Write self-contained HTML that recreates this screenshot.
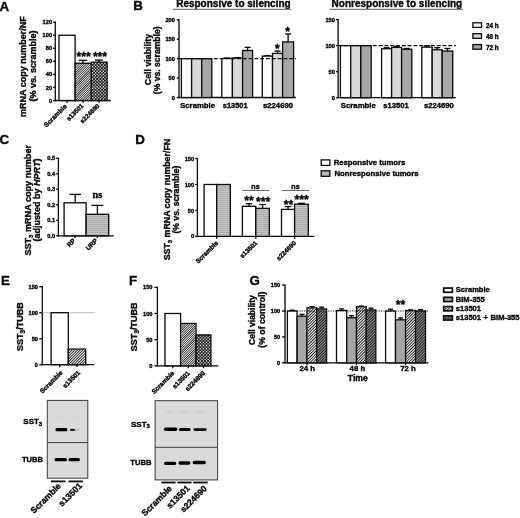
<!DOCTYPE html>
<html lang="en"><head><meta charset="utf-8"><title>Figure</title>
<style>
html,body{margin:0;padding:0;background:#fff;}
body{width:520px;height:518px;overflow:hidden;font-family:"Liberation Sans",sans-serif;}
svg{display:block;}
</style></head><body>
<svg width="520" height="518" viewBox="0 0 520 518">
<rect x="0" y="0" width="520" height="518" fill="#ffffff"/>
<g filter="url(#soft)">
<defs>
<filter id="soft" x="0" y="0" width="520" height="518" filterUnits="userSpaceOnUse"><feGaussianBlur stdDeviation="0.45"/></filter>
<pattern id="hlines" x="0" y="0" width="2" height="2" patternUnits="userSpaceOnUse">
<rect width="2" height="2" fill="#c3c3c3"/><rect width="2" height="0.8" fill="#a9a9a9"/></pattern>
<filter id="blur1" x="-20%" y="-50%" width="140%" height="200%"><feGaussianBlur stdDeviation="0.7"/></filter>
<filter id="blur2" x="-20%" y="-50%" width="140%" height="200%"><feGaussianBlur stdDeviation="1.2"/></filter>
</defs>
<text x="-0.40" y="10.70" font-family='"Liberation Sans", sans-serif' font-size="13.3" font-weight="bold" text-anchor="start" fill="#080808" stroke="#080808" stroke-width="0.35" >A</text>
<line x1="55.30" y1="21.55" x2="55.30" y2="101.15" stroke="#080808" stroke-width="1.3" />
<line x1="53.10" y1="100.50" x2="55.30" y2="100.50" stroke="#080808" stroke-width="1.3" />
<text x="52.10" y="102.55" font-family='"Liberation Sans", sans-serif' font-size="5.7" font-weight="bold" text-anchor="end" fill="#080808" stroke="#080808" stroke-width="0.35" >0</text>
<line x1="53.10" y1="87.45" x2="55.30" y2="87.45" stroke="#080808" stroke-width="1.3" />
<text x="52.10" y="89.50" font-family='"Liberation Sans", sans-serif' font-size="5.7" font-weight="bold" text-anchor="end" fill="#080808" stroke="#080808" stroke-width="0.35" >20</text>
<line x1="53.10" y1="74.40" x2="55.30" y2="74.40" stroke="#080808" stroke-width="1.3" />
<text x="52.10" y="76.45" font-family='"Liberation Sans", sans-serif' font-size="5.7" font-weight="bold" text-anchor="end" fill="#080808" stroke="#080808" stroke-width="0.35" >40</text>
<line x1="53.10" y1="61.35" x2="55.30" y2="61.35" stroke="#080808" stroke-width="1.3" />
<text x="52.10" y="63.40" font-family='"Liberation Sans", sans-serif' font-size="5.7" font-weight="bold" text-anchor="end" fill="#080808" stroke="#080808" stroke-width="0.35" >60</text>
<line x1="53.10" y1="48.30" x2="55.30" y2="48.30" stroke="#080808" stroke-width="1.3" />
<text x="52.10" y="50.35" font-family='"Liberation Sans", sans-serif' font-size="5.7" font-weight="bold" text-anchor="end" fill="#080808" stroke="#080808" stroke-width="0.35" >80</text>
<line x1="53.10" y1="35.25" x2="55.30" y2="35.25" stroke="#080808" stroke-width="1.3" />
<text x="52.10" y="37.30" font-family='"Liberation Sans", sans-serif' font-size="5.7" font-weight="bold" text-anchor="end" fill="#080808" stroke="#080808" stroke-width="0.35" >100</text>
<line x1="53.10" y1="22.20" x2="55.30" y2="22.20" stroke="#080808" stroke-width="1.3" />
<text x="52.10" y="24.25" font-family='"Liberation Sans", sans-serif' font-size="5.7" font-weight="bold" text-anchor="end" fill="#080808" stroke="#080808" stroke-width="0.35" >120</text>
<line x1="54.65" y1="100.50" x2="110.80" y2="100.50" stroke="#080808" stroke-width="1.3" />
<rect x="59.00" y="35.25" width="16.10" height="65.25" fill="#fff" stroke="#080808" stroke-width="1.3"/>
<line x1="83.00" y1="63.30" x2="83.00" y2="60.30" stroke="#080808" stroke-width="1.3" />
<line x1="78.80" y1="60.30" x2="87.20" y2="60.30" stroke="#080808" stroke-width="1.3" />
<rect x="75.20" y="63.30" width="16.10" height="37.20" fill="#fff" stroke="#080808" stroke-width="1.3"/>
<line x1="98.90" y1="62.20" x2="98.90" y2="60.10" stroke="#080808" stroke-width="1.3" />
<line x1="94.90" y1="60.10" x2="102.90" y2="60.10" stroke="#080808" stroke-width="1.3" />
<rect x="91.30" y="62.20" width="15.80" height="38.30" fill="#141414" stroke="#080808" stroke-width="1.3"/>
<line x1="67.00" y1="100.50" x2="67.00" y2="102.70" stroke="#080808" stroke-width="1.3" />
<line x1="83.20" y1="100.50" x2="83.20" y2="102.70" stroke="#080808" stroke-width="1.3" />
<line x1="99.20" y1="100.50" x2="99.20" y2="102.70" stroke="#080808" stroke-width="1.3" />
<text x="83.70" y="61.40" font-family='"Liberation Sans", sans-serif' font-size="12.2" font-weight="bold" text-anchor="middle" fill="#080808" stroke="#080808" stroke-width="0.35" >***</text>
<text x="100.00" y="61.00" font-family='"Liberation Sans", sans-serif' font-size="12.2" font-weight="bold" text-anchor="middle" fill="#080808" stroke="#080808" stroke-width="0.35" >***</text>
<text x="67.30" y="106.80" font-family='"Liberation Sans", sans-serif' font-size="6.5" font-weight="bold" text-anchor="end" fill="#080808" stroke="#080808" stroke-width="0.35" transform="rotate(-45 67.30 106.80)" >Scramble</text>
<text x="83.90" y="106.30" font-family='"Liberation Sans", sans-serif' font-size="6.3" font-weight="bold" text-anchor="end" fill="#080808" stroke="#080808" stroke-width="0.35" transform="rotate(-45 83.90 106.30)" >s13501</text>
<text x="99.90" y="106.40" font-family='"Liberation Sans", sans-serif' font-size="6.3" font-weight="bold" text-anchor="end" fill="#080808" stroke="#080808" stroke-width="0.35" transform="rotate(-45 99.90 106.40)" >s224690</text>
<text x="26.10" y="66.70" font-family='"Liberation Sans", sans-serif' font-size="9" font-weight="bold" text-anchor="middle" fill="#080808" stroke="#080808" stroke-width="0.35" transform="rotate(-90 26.10 66.70)" >mRNA copy number/NF</text>
<text x="36.40" y="66.00" font-family='"Liberation Sans", sans-serif' font-size="9" font-weight="bold" text-anchor="middle" fill="#080808" stroke="#080808" stroke-width="0.35" transform="rotate(-90 36.40 66.00)" >(% vs. scramble)</text>
<text x="133.30" y="10.00" font-family='"Liberation Sans", sans-serif' font-size="13.3" font-weight="bold" text-anchor="start" fill="#080808" stroke="#080808" stroke-width="0.35" >B</text>
<text x="233.40" y="7.15" font-family='"Liberation Sans", sans-serif' font-size="10.0" font-weight="bold" text-anchor="middle" fill="#080808" stroke="#080808" stroke-width="0.35" >Responsive to silencing</text>
<line x1="172.80" y1="9.40" x2="291.20" y2="9.40" stroke="#7c7c7c" stroke-width="1.1" />
<line x1="179.00" y1="19.15" x2="179.00" y2="98.15" stroke="#080808" stroke-width="1.3" />
<line x1="176.80" y1="97.50" x2="179.00" y2="97.50" stroke="#080808" stroke-width="1.3" />
<text x="174.90" y="99.55" font-family='"Liberation Sans", sans-serif' font-size="5.7" font-weight="bold" text-anchor="end" fill="#080808" stroke="#080808" stroke-width="0.35" >0</text>
<line x1="176.80" y1="78.08" x2="179.00" y2="78.08" stroke="#080808" stroke-width="1.3" />
<text x="174.90" y="80.13" font-family='"Liberation Sans", sans-serif' font-size="5.7" font-weight="bold" text-anchor="end" fill="#080808" stroke="#080808" stroke-width="0.35" >50</text>
<line x1="176.80" y1="58.65" x2="179.00" y2="58.65" stroke="#080808" stroke-width="1.3" />
<text x="174.90" y="60.70" font-family='"Liberation Sans", sans-serif' font-size="5.7" font-weight="bold" text-anchor="end" fill="#080808" stroke="#080808" stroke-width="0.35" >100</text>
<line x1="176.80" y1="39.23" x2="179.00" y2="39.23" stroke="#080808" stroke-width="1.3" />
<text x="174.90" y="41.28" font-family='"Liberation Sans", sans-serif' font-size="5.7" font-weight="bold" text-anchor="end" fill="#080808" stroke="#080808" stroke-width="0.35" >150</text>
<line x1="176.80" y1="19.80" x2="179.00" y2="19.80" stroke="#080808" stroke-width="1.3" />
<text x="174.90" y="21.85" font-family='"Liberation Sans", sans-serif' font-size="5.7" font-weight="bold" text-anchor="end" fill="#080808" stroke="#080808" stroke-width="0.35" >200</text>
<line x1="178.35" y1="97.50" x2="295.80" y2="97.50" stroke="#080808" stroke-width="1.3" />
<rect x="181.40" y="58.65" width="10.20" height="38.85" fill="#ffffff" stroke="#080808" stroke-width="1.3"/>
<rect x="191.60" y="58.65" width="10.10" height="38.85" fill="#d8d8d8" stroke="#080808" stroke-width="1.3"/>
<rect x="201.70" y="58.65" width="10.10" height="38.85" fill="#a7a7a7" stroke="#080808" stroke-width="1.3"/>
<line x1="227.10" y1="58.46" x2="227.10" y2="58.07" stroke="#080808" stroke-width="1.3" />
<line x1="224.10" y1="58.07" x2="230.10" y2="58.07" stroke="#080808" stroke-width="1.3" />
<rect x="221.80" y="58.46" width="10.60" height="39.04" fill="#ffffff" stroke="#080808" stroke-width="1.3"/>
<line x1="237.50" y1="58.07" x2="237.50" y2="57.60" stroke="#080808" stroke-width="1.3" />
<line x1="234.50" y1="57.60" x2="240.50" y2="57.60" stroke="#080808" stroke-width="1.3" />
<rect x="232.40" y="58.07" width="10.20" height="39.43" fill="#d8d8d8" stroke="#080808" stroke-width="1.3"/>
<line x1="247.60" y1="50.49" x2="247.60" y2="47.38" stroke="#080808" stroke-width="1.3" />
<line x1="244.60" y1="47.38" x2="250.60" y2="47.38" stroke="#080808" stroke-width="1.3" />
<rect x="242.60" y="50.49" width="10.00" height="47.01" fill="#a7a7a7" stroke="#080808" stroke-width="1.3"/>
<line x1="267.40" y1="56.12" x2="267.40" y2="55.54" stroke="#080808" stroke-width="1.3" />
<line x1="264.40" y1="55.54" x2="270.40" y2="55.54" stroke="#080808" stroke-width="1.3" />
<rect x="262.30" y="56.12" width="10.20" height="41.38" fill="#ffffff" stroke="#080808" stroke-width="1.3"/>
<line x1="277.55" y1="53.41" x2="277.55" y2="51.07" stroke="#080808" stroke-width="1.3" />
<line x1="274.55" y1="51.07" x2="280.55" y2="51.07" stroke="#080808" stroke-width="1.3" />
<rect x="272.50" y="53.41" width="10.10" height="44.09" fill="#d8d8d8" stroke="#080808" stroke-width="1.3"/>
<line x1="288.10" y1="41.94" x2="288.10" y2="33.98" stroke="#080808" stroke-width="1.3" />
<line x1="285.10" y1="33.98" x2="291.10" y2="33.98" stroke="#080808" stroke-width="1.3" />
<rect x="282.60" y="41.94" width="11.00" height="55.56" fill="#a7a7a7" stroke="#080808" stroke-width="1.3"/>
<line x1="179.00" y1="58.65" x2="295.80" y2="58.65" stroke="#111" stroke-width="1.25" stroke-dasharray="3.9 1.9"/>
<text x="277.30" y="53.40" font-family='"Liberation Sans", sans-serif' font-size="12" font-weight="bold" text-anchor="middle" fill="#080808" stroke="#080808" stroke-width="0.35" >*</text>
<text x="287.50" y="35.60" font-family='"Liberation Sans", sans-serif' font-size="12" font-weight="bold" text-anchor="middle" fill="#080808" stroke="#080808" stroke-width="0.35" >*</text>
<text x="197.60" y="107.80" font-family='"Liberation Sans", sans-serif' font-size="7.75" font-weight="bold" text-anchor="middle" fill="#080808" stroke="#080808" stroke-width="0.35" >Scramble</text>
<text x="235.20" y="107.80" font-family='"Liberation Sans", sans-serif' font-size="7.4" font-weight="bold" text-anchor="middle" fill="#080808" stroke="#080808" stroke-width="0.35" >s13501</text>
<text x="278.00" y="107.80" font-family='"Liberation Sans", sans-serif' font-size="7.7" font-weight="bold" text-anchor="middle" fill="#080808" stroke="#080808" stroke-width="0.35" >s224690</text>
<text x="150.60" y="59.50" font-family='"Liberation Sans", sans-serif' font-size="8.8" font-weight="bold" text-anchor="middle" fill="#080808" stroke="#080808" stroke-width="0.35" transform="rotate(-90 150.60 59.50)" >Cell viability</text>
<text x="160.20" y="60.30" font-family='"Liberation Sans", sans-serif' font-size="8.6" font-weight="bold" text-anchor="middle" fill="#080808" stroke="#080808" stroke-width="0.35" transform="rotate(-90 160.20 60.30)" >(% vs. scramble)</text>
<text x="396.90" y="7.15" font-family='"Liberation Sans", sans-serif' font-size="10.0" font-weight="bold" text-anchor="middle" fill="#080808" stroke="#080808" stroke-width="0.35" >Nonresponsive to silencing</text>
<line x1="329.40" y1="9.40" x2="463.20" y2="9.40" stroke="#7c7c7c" stroke-width="1.1" />
<line x1="338.10" y1="18.90" x2="338.10" y2="98.35" stroke="#080808" stroke-width="1.3" />
<line x1="335.90" y1="97.70" x2="338.10" y2="97.70" stroke="#080808" stroke-width="1.3" />
<text x="334.90" y="99.75" font-family='"Liberation Sans", sans-serif' font-size="5.7" font-weight="bold" text-anchor="end" fill="#080808" stroke="#080808" stroke-width="0.35" >0</text>
<line x1="335.90" y1="71.65" x2="338.10" y2="71.65" stroke="#080808" stroke-width="1.3" />
<text x="334.90" y="73.70" font-family='"Liberation Sans", sans-serif' font-size="5.7" font-weight="bold" text-anchor="end" fill="#080808" stroke="#080808" stroke-width="0.35" >50</text>
<line x1="335.90" y1="45.60" x2="338.10" y2="45.60" stroke="#080808" stroke-width="1.3" />
<text x="334.90" y="47.65" font-family='"Liberation Sans", sans-serif' font-size="5.7" font-weight="bold" text-anchor="end" fill="#080808" stroke="#080808" stroke-width="0.35" >100</text>
<line x1="335.90" y1="19.55" x2="338.10" y2="19.55" stroke="#080808" stroke-width="1.3" />
<text x="334.90" y="21.60" font-family='"Liberation Sans", sans-serif' font-size="5.7" font-weight="bold" text-anchor="end" fill="#080808" stroke="#080808" stroke-width="0.35" >150</text>
<line x1="337.45" y1="97.70" x2="455.80" y2="97.70" stroke="#080808" stroke-width="1.3" />
<rect x="340.40" y="45.60" width="10.30" height="52.10" fill="#ffffff" stroke="#080808" stroke-width="1.3"/>
<rect x="350.70" y="45.60" width="10.10" height="52.10" fill="#d8d8d8" stroke="#080808" stroke-width="1.3"/>
<rect x="360.80" y="45.60" width="10.40" height="52.10" fill="#a7a7a7" stroke="#080808" stroke-width="1.3"/>
<line x1="386.60" y1="48.73" x2="386.60" y2="47.68" stroke="#080808" stroke-width="1.3" />
<line x1="383.60" y1="47.68" x2="389.60" y2="47.68" stroke="#080808" stroke-width="1.3" />
<rect x="381.60" y="48.73" width="10.00" height="48.97" fill="#ffffff" stroke="#080808" stroke-width="1.3"/>
<line x1="396.60" y1="47.42" x2="396.60" y2="46.38" stroke="#080808" stroke-width="1.3" />
<line x1="393.60" y1="46.38" x2="399.60" y2="46.38" stroke="#080808" stroke-width="1.3" />
<rect x="391.60" y="47.42" width="10.00" height="50.28" fill="#d8d8d8" stroke="#080808" stroke-width="1.3"/>
<line x1="406.70" y1="49.25" x2="406.70" y2="48.47" stroke="#080808" stroke-width="1.3" />
<line x1="403.70" y1="48.47" x2="409.70" y2="48.47" stroke="#080808" stroke-width="1.3" />
<rect x="401.60" y="49.25" width="10.20" height="48.45" fill="#a7a7a7" stroke="#080808" stroke-width="1.3"/>
<line x1="427.00" y1="47.16" x2="427.00" y2="45.86" stroke="#080808" stroke-width="1.3" />
<line x1="424.00" y1="45.86" x2="430.00" y2="45.86" stroke="#080808" stroke-width="1.3" />
<rect x="421.80" y="47.16" width="10.40" height="50.54" fill="#ffffff" stroke="#080808" stroke-width="1.3"/>
<line x1="437.20" y1="49.77" x2="437.20" y2="47.68" stroke="#080808" stroke-width="1.3" />
<line x1="434.20" y1="47.68" x2="440.20" y2="47.68" stroke="#080808" stroke-width="1.3" />
<rect x="432.20" y="49.77" width="10.00" height="47.93" fill="#d8d8d8" stroke="#080808" stroke-width="1.3"/>
<line x1="447.45" y1="51.07" x2="447.45" y2="48.47" stroke="#080808" stroke-width="1.3" />
<line x1="444.45" y1="48.47" x2="450.45" y2="48.47" stroke="#080808" stroke-width="1.3" />
<rect x="442.20" y="51.07" width="10.50" height="46.63" fill="#a7a7a7" stroke="#080808" stroke-width="1.3"/>
<line x1="338.10" y1="45.60" x2="455.80" y2="45.60" stroke="#111" stroke-width="1.25" stroke-dasharray="3.9 1.9"/>
<text x="358.30" y="107.70" font-family='"Liberation Sans", sans-serif' font-size="7.8" font-weight="bold" text-anchor="middle" fill="#080808" stroke="#080808" stroke-width="0.35" >Scramble</text>
<text x="396.00" y="107.70" font-family='"Liberation Sans", sans-serif' font-size="7.6" font-weight="bold" text-anchor="middle" fill="#080808" stroke="#080808" stroke-width="0.35" >s13501</text>
<text x="438.90" y="107.70" font-family='"Liberation Sans", sans-serif' font-size="7.65" font-weight="bold" text-anchor="middle" fill="#080808" stroke="#080808" stroke-width="0.35" >s224690</text>
<rect x="472.90" y="22.80" width="8.60" height="4.60" fill="#ffffff" stroke="#080808" stroke-width="1.3"/>
<text x="486.00" y="27.90" font-family='"Liberation Sans", sans-serif' font-size="6.3" font-weight="bold" text-anchor="start" fill="#080808" stroke="#080808" stroke-width="0.35" >24 h</text>
<rect x="472.90" y="33.70" width="8.60" height="4.60" fill="#d8d8d8" stroke="#080808" stroke-width="1.3"/>
<text x="486.00" y="38.80" font-family='"Liberation Sans", sans-serif' font-size="6.3" font-weight="bold" text-anchor="start" fill="#080808" stroke="#080808" stroke-width="0.35" >48 h</text>
<rect x="472.90" y="44.60" width="8.60" height="4.60" fill="#a7a7a7" stroke="#080808" stroke-width="1.3"/>
<text x="486.00" y="49.70" font-family='"Liberation Sans", sans-serif' font-size="6.3" font-weight="bold" text-anchor="start" fill="#080808" stroke="#080808" stroke-width="0.35" >72 h</text>
<text x="-0.50" y="143.70" font-family='"Liberation Sans", sans-serif' font-size="13.3" font-weight="bold" text-anchor="start" fill="#080808" stroke="#080808" stroke-width="0.35" >C</text>
<line x1="58.40" y1="157.65" x2="58.40" y2="236.45" stroke="#080808" stroke-width="1.3" />
<line x1="56.20" y1="235.80" x2="58.40" y2="235.80" stroke="#080808" stroke-width="1.3" />
<text x="55.20" y="237.85" font-family='"Liberation Sans", sans-serif' font-size="5.7" font-weight="bold" text-anchor="end" fill="#080808" stroke="#080808" stroke-width="0.35" >0.0</text>
<line x1="56.20" y1="220.30" x2="58.40" y2="220.30" stroke="#080808" stroke-width="1.3" />
<text x="55.20" y="222.35" font-family='"Liberation Sans", sans-serif' font-size="5.7" font-weight="bold" text-anchor="end" fill="#080808" stroke="#080808" stroke-width="0.35" >0.1</text>
<line x1="56.20" y1="204.80" x2="58.40" y2="204.80" stroke="#080808" stroke-width="1.3" />
<text x="55.20" y="206.85" font-family='"Liberation Sans", sans-serif' font-size="5.7" font-weight="bold" text-anchor="end" fill="#080808" stroke="#080808" stroke-width="0.35" >0.2</text>
<line x1="56.20" y1="189.30" x2="58.40" y2="189.30" stroke="#080808" stroke-width="1.3" />
<text x="55.20" y="191.35" font-family='"Liberation Sans", sans-serif' font-size="5.7" font-weight="bold" text-anchor="end" fill="#080808" stroke="#080808" stroke-width="0.35" >0.3</text>
<line x1="56.20" y1="173.80" x2="58.40" y2="173.80" stroke="#080808" stroke-width="1.3" />
<text x="55.20" y="175.85" font-family='"Liberation Sans", sans-serif' font-size="5.7" font-weight="bold" text-anchor="end" fill="#080808" stroke="#080808" stroke-width="0.35" >0.4</text>
<line x1="56.20" y1="158.30" x2="58.40" y2="158.30" stroke="#080808" stroke-width="1.3" />
<text x="55.20" y="160.35" font-family='"Liberation Sans", sans-serif' font-size="5.7" font-weight="bold" text-anchor="end" fill="#080808" stroke="#080808" stroke-width="0.35" >0.5</text>
<line x1="57.75" y1="235.80" x2="113.70" y2="235.80" stroke="#080808" stroke-width="1.3" />
<line x1="75.20" y1="202.80" x2="75.20" y2="194.40" stroke="#080808" stroke-width="1.3" />
<line x1="69.40" y1="194.40" x2="81.00" y2="194.40" stroke="#080808" stroke-width="1.3" />
<rect x="64.10" y="202.80" width="22.00" height="33.00" fill="#fff" stroke="#080808" stroke-width="1.3"/>
<line x1="97.40" y1="214.30" x2="97.40" y2="205.40" stroke="#080808" stroke-width="1.3" />
<line x1="91.40" y1="205.40" x2="103.40" y2="205.40" stroke="#080808" stroke-width="1.3" />
<rect x="86.10" y="214.30" width="22.60" height="21.50" fill="url(#hlines)" stroke="#080808" stroke-width="1.3"/>
<line x1="75.00" y1="235.80" x2="75.00" y2="238.00" stroke="#080808" stroke-width="1.3" />
<line x1="97.20" y1="235.80" x2="97.20" y2="238.00" stroke="#080808" stroke-width="1.3" />
<text x="97.30" y="198.10" font-family='"Liberation Serif", serif' font-size="10.3" font-weight="bold" text-anchor="middle" fill="#080808" stroke="#080808" stroke-width="0.35" >ns</text>
<text x="75.90" y="241.10" font-family='"Liberation Sans", sans-serif' font-size="6.5" font-weight="bold" text-anchor="end" fill="#080808" stroke="#080808" stroke-width="0.35" transform="rotate(-45 75.90 241.10)" >RP</text>
<text x="98.10" y="241.10" font-family='"Liberation Sans", sans-serif' font-size="6.5" font-weight="bold" text-anchor="end" fill="#080808" stroke="#080808" stroke-width="0.35" transform="rotate(-45 98.10 241.10)" >URP</text>
<text x="31.5" y="200.3" font-family='"Liberation Sans", sans-serif' font-size="9.1" font-weight="bold" text-anchor="middle" fill="#080808" stroke="#080808" stroke-width="0.35" transform="rotate(-90 31.5 200.3)">SST<tspan font-size="6" dy="1.8">3</tspan><tspan dy="-1.8"> mRNA copy number</tspan></text>
<text x="39.9" y="200.0" font-family='"Liberation Sans", sans-serif' font-size="9" font-weight="bold" text-anchor="middle" fill="#080808" stroke="#080808" stroke-width="0.35" transform="rotate(-90 39.9 200.0)">(adjusted by <tspan font-style="italic">HPRT</tspan>)</text>
<text x="135.30" y="143.90" font-family='"Liberation Sans", sans-serif' font-size="13.3" font-weight="bold" text-anchor="start" fill="#080808" stroke="#080808" stroke-width="0.35" >D</text>
<line x1="197.40" y1="157.90" x2="197.40" y2="237.05" stroke="#080808" stroke-width="1.3" />
<line x1="195.20" y1="236.40" x2="197.40" y2="236.40" stroke="#080808" stroke-width="1.3" />
<text x="194.20" y="238.45" font-family='"Liberation Sans", sans-serif' font-size="5.7" font-weight="bold" text-anchor="end" fill="#080808" stroke="#080808" stroke-width="0.35" >0</text>
<line x1="195.20" y1="210.45" x2="197.40" y2="210.45" stroke="#080808" stroke-width="1.3" />
<text x="194.20" y="212.50" font-family='"Liberation Sans", sans-serif' font-size="5.7" font-weight="bold" text-anchor="end" fill="#080808" stroke="#080808" stroke-width="0.35" >50</text>
<line x1="195.20" y1="184.50" x2="197.40" y2="184.50" stroke="#080808" stroke-width="1.3" />
<text x="194.20" y="186.55" font-family='"Liberation Sans", sans-serif' font-size="5.7" font-weight="bold" text-anchor="end" fill="#080808" stroke="#080808" stroke-width="0.35" >100</text>
<line x1="195.20" y1="158.55" x2="197.40" y2="158.55" stroke="#080808" stroke-width="1.3" />
<text x="194.20" y="160.60" font-family='"Liberation Sans", sans-serif' font-size="5.7" font-weight="bold" text-anchor="end" fill="#080808" stroke="#080808" stroke-width="0.35" >150</text>
<line x1="196.75" y1="236.40" x2="314.40" y2="236.40" stroke="#080808" stroke-width="1.3" />
<rect x="204.10" y="184.50" width="12.60" height="51.90" fill="#fff" stroke="#080808" stroke-width="1.3"/>
<rect x="216.70" y="184.50" width="13.60" height="51.90" fill="url(#hlines)" stroke="#080808" stroke-width="1.3"/>
<line x1="249.10" y1="206.30" x2="249.10" y2="203.70" stroke="#080808" stroke-width="1.3" />
<line x1="245.85" y1="203.70" x2="252.35" y2="203.70" stroke="#080808" stroke-width="1.3" />
<rect x="242.40" y="206.30" width="13.40" height="30.10" fill="#fff" stroke="#080808" stroke-width="1.3"/>
<line x1="262.55" y1="208.37" x2="262.55" y2="204.48" stroke="#080808" stroke-width="1.3" />
<line x1="259.30" y1="204.48" x2="265.80" y2="204.48" stroke="#080808" stroke-width="1.3" />
<rect x="255.80" y="208.37" width="13.50" height="28.03" fill="url(#hlines)" stroke="#080808" stroke-width="1.3"/>
<line x1="288.05" y1="209.41" x2="288.05" y2="206.56" stroke="#080808" stroke-width="1.3" />
<line x1="284.80" y1="206.56" x2="291.30" y2="206.56" stroke="#080808" stroke-width="1.3" />
<rect x="281.50" y="209.41" width="13.10" height="26.99" fill="#fff" stroke="#080808" stroke-width="1.3"/>
<line x1="301.45" y1="204.22" x2="301.45" y2="203.29" stroke="#080808" stroke-width="1.3" />
<line x1="298.20" y1="203.29" x2="304.70" y2="203.29" stroke="#080808" stroke-width="1.3" />
<rect x="294.60" y="204.22" width="13.70" height="32.18" fill="url(#hlines)" stroke="#080808" stroke-width="1.3"/>
<line x1="216.70" y1="236.40" x2="216.70" y2="238.80" stroke="#080808" stroke-width="1.3" />
<line x1="255.80" y1="236.40" x2="255.80" y2="238.80" stroke="#080808" stroke-width="1.3" />
<line x1="294.60" y1="236.40" x2="294.60" y2="238.80" stroke="#080808" stroke-width="1.3" />
<text x="248.90" y="205.20" font-family='"Liberation Sans", sans-serif' font-size="12.2" font-weight="bold" text-anchor="middle" fill="#080808" stroke="#080808" stroke-width="0.35" >**</text>
<text x="263.10" y="206.30" font-family='"Liberation Sans", sans-serif' font-size="12.2" font-weight="bold" text-anchor="middle" fill="#080808" stroke="#080808" stroke-width="0.35" >***</text>
<text x="288.40" y="208.70" font-family='"Liberation Sans", sans-serif' font-size="12.2" font-weight="bold" text-anchor="middle" fill="#080808" stroke="#080808" stroke-width="0.35" >**</text>
<text x="301.60" y="203.50" font-family='"Liberation Sans", sans-serif' font-size="12.2" font-weight="bold" text-anchor="middle" fill="#080808" stroke="#080808" stroke-width="0.35" >***</text>
<text x="255.50" y="188.80" font-family='"Liberation Sans", sans-serif' font-size="7.2" font-weight="bold" text-anchor="middle" fill="#080808" stroke="#080808" stroke-width="0.35" >ns</text>
<line x1="242.30" y1="190.50" x2="269.00" y2="190.50" stroke="#6e6e6e" stroke-width="1.1" />
<text x="295.50" y="188.80" font-family='"Liberation Sans", sans-serif' font-size="7.2" font-weight="bold" text-anchor="middle" fill="#080808" stroke="#080808" stroke-width="0.35" >ns</text>
<line x1="282.00" y1="190.50" x2="309.00" y2="190.50" stroke="#6e6e6e" stroke-width="1.1" />
<text x="218.60" y="243.50" font-family='"Liberation Sans", sans-serif' font-size="6.4" font-weight="bold" text-anchor="end" fill="#080808" stroke="#080808" stroke-width="0.35" transform="rotate(-45 218.60 243.50)" >Scramble</text>
<text x="257.70" y="243.50" font-family='"Liberation Sans", sans-serif' font-size="6.4" font-weight="bold" text-anchor="end" fill="#080808" stroke="#080808" stroke-width="0.35" transform="rotate(-45 257.70 243.50)" >s13501</text>
<text x="296.50" y="243.50" font-family='"Liberation Sans", sans-serif' font-size="6.4" font-weight="bold" text-anchor="end" fill="#080808" stroke="#080808" stroke-width="0.35" transform="rotate(-45 296.50 243.50)" >s224690</text>
<text x="170.4" y="199.6" font-family='"Liberation Sans", sans-serif' font-size="8.82" font-weight="bold" text-anchor="middle" fill="#080808" stroke="#080808" stroke-width="0.35" transform="rotate(-90 170.4 199.6)">SST<tspan font-size="6" dy="1.8">3</tspan><tspan dy="-1.8"> mRNA copy number/FN</tspan></text>
<text x="178.90" y="199.60" font-family='"Liberation Sans", sans-serif' font-size="8.6" font-weight="bold" text-anchor="middle" fill="#080808" stroke="#080808" stroke-width="0.35" transform="rotate(-90 178.90 199.60)" >(% vs. scramble)</text>
<rect x="321.20" y="159.90" width="8.60" height="5.50" fill="#fff" stroke="#080808" stroke-width="1.3"/>
<rect x="321.20" y="170.80" width="8.60" height="5.50" fill="url(#hlines)" stroke="#080808" stroke-width="1.3"/>
<text x="333.70" y="165.20" font-family='"Liberation Sans", sans-serif' font-size="7.72" font-weight="bold" text-anchor="start" fill="#080808" stroke="#080808" stroke-width="0.35" >Responsive tumors</text>
<text x="334.50" y="176.00" font-family='"Liberation Sans", sans-serif' font-size="7.72" font-weight="bold" text-anchor="start" fill="#080808" stroke="#080808" stroke-width="0.35" >Nonresponsive tumors</text>
<text x="1.00" y="285.00" font-family='"Liberation Sans", sans-serif' font-size="13.3" font-weight="bold" text-anchor="start" fill="#080808" stroke="#080808" stroke-width="0.35" >E</text>
<line x1="42.30" y1="286.05" x2="42.30" y2="365.35" stroke="#080808" stroke-width="1.3" />
<line x1="39.30" y1="364.70" x2="42.30" y2="364.70" stroke="#080808" stroke-width="1.3" />
<text x="38.00" y="366.75" font-family='"Liberation Sans", sans-serif' font-size="5.7" font-weight="bold" text-anchor="end" fill="#080808" stroke="#080808" stroke-width="0.35" >0</text>
<line x1="39.30" y1="338.70" x2="42.30" y2="338.70" stroke="#080808" stroke-width="1.3" />
<text x="38.00" y="340.75" font-family='"Liberation Sans", sans-serif' font-size="5.7" font-weight="bold" text-anchor="end" fill="#080808" stroke="#080808" stroke-width="0.35" >50</text>
<line x1="39.30" y1="312.70" x2="42.30" y2="312.70" stroke="#080808" stroke-width="1.3" />
<text x="38.00" y="314.75" font-family='"Liberation Sans", sans-serif' font-size="5.7" font-weight="bold" text-anchor="end" fill="#080808" stroke="#080808" stroke-width="0.35" >100</text>
<line x1="39.30" y1="286.70" x2="42.30" y2="286.70" stroke="#080808" stroke-width="1.3" />
<text x="38.00" y="288.75" font-family='"Liberation Sans", sans-serif' font-size="5.7" font-weight="bold" text-anchor="end" fill="#080808" stroke="#080808" stroke-width="0.35" >150</text>
<line x1="42.30" y1="312.70" x2="95.00" y2="312.70" stroke="#a8a8a8" stroke-width="0.8" />
<line x1="41.65" y1="364.70" x2="94.20" y2="364.70" stroke="#080808" stroke-width="1.3" />
<rect x="51.10" y="312.70" width="17.20" height="52.00" fill="#fff" stroke="#080808" stroke-width="1.3"/>
<rect x="68.30" y="349.10" width="17.40" height="15.60" fill="#fff" stroke="#080808" stroke-width="1.3"/>
<line x1="59.60" y1="364.70" x2="59.60" y2="367.10" stroke="#080808" stroke-width="1.3" />
<text x="63.20" y="373.10" font-family='"Liberation Sans", sans-serif' font-size="6.5" font-weight="bold" text-anchor="end" fill="#080808" stroke="#080808" stroke-width="0.35" transform="rotate(-45 63.20 373.10)" >Scramble</text>
<line x1="77.00" y1="364.70" x2="77.00" y2="367.10" stroke="#080808" stroke-width="1.3" />
<text x="80.60" y="373.10" font-family='"Liberation Sans", sans-serif' font-size="6.5" font-weight="bold" text-anchor="end" fill="#080808" stroke="#080808" stroke-width="0.35" transform="rotate(-45 80.60 373.10)" >s13501</text>
<text x="23.00" y="326.60" font-family='"Liberation Sans", sans-serif' font-size="9.05" font-weight="bold" text-anchor="middle" fill="#080808" stroke="#080808" stroke-width="0.35" transform="rotate(-90 23.00 326.60)">SST<tspan font-size="6.4" dy="1.8">3</tspan><tspan dy="-1.8" font-size="9.05">/TUBB</tspan></text>
<text x="129.10" y="284.50" font-family='"Liberation Sans", sans-serif' font-size="13.3" font-weight="bold" text-anchor="start" fill="#080808" stroke="#080808" stroke-width="0.35" >F</text>
<line x1="157.40" y1="286.70" x2="157.40" y2="366.45" stroke="#080808" stroke-width="1.3" />
<line x1="154.40" y1="365.80" x2="157.40" y2="365.80" stroke="#080808" stroke-width="1.3" />
<text x="152.50" y="367.85" font-family='"Liberation Sans", sans-serif' font-size="5.7" font-weight="bold" text-anchor="end" fill="#080808" stroke="#080808" stroke-width="0.35" >0</text>
<line x1="154.40" y1="339.65" x2="157.40" y2="339.65" stroke="#080808" stroke-width="1.3" />
<text x="152.50" y="341.70" font-family='"Liberation Sans", sans-serif' font-size="5.7" font-weight="bold" text-anchor="end" fill="#080808" stroke="#080808" stroke-width="0.35" >50</text>
<line x1="154.40" y1="313.50" x2="157.40" y2="313.50" stroke="#080808" stroke-width="1.3" />
<text x="152.50" y="315.55" font-family='"Liberation Sans", sans-serif' font-size="5.7" font-weight="bold" text-anchor="end" fill="#080808" stroke="#080808" stroke-width="0.35" >100</text>
<line x1="154.40" y1="287.35" x2="157.40" y2="287.35" stroke="#080808" stroke-width="1.3" />
<text x="152.50" y="289.40" font-family='"Liberation Sans", sans-serif' font-size="5.7" font-weight="bold" text-anchor="end" fill="#080808" stroke="#080808" stroke-width="0.35" >150</text>
<line x1="156.75" y1="365.80" x2="218.30" y2="365.80" stroke="#080808" stroke-width="1.3" />
<rect x="165.00" y="313.50" width="15.60" height="52.30" fill="#fff" stroke="#080808" stroke-width="1.3"/>
<rect x="180.60" y="323.44" width="15.40" height="42.36" fill="#fff" stroke="#080808" stroke-width="1.3"/>
<rect x="196.00" y="334.94" width="14.90" height="30.86" fill="#141414" stroke="#080808" stroke-width="1.3"/>
<line x1="172.80" y1="365.80" x2="172.80" y2="368.20" stroke="#080808" stroke-width="1.3" />
<text x="174.90" y="373.60" font-family='"Liberation Sans", sans-serif' font-size="6.5" font-weight="bold" text-anchor="end" fill="#080808" stroke="#080808" stroke-width="0.35" transform="rotate(-45 174.90 373.60)" >Scramble</text>
<line x1="188.30" y1="365.80" x2="188.30" y2="368.20" stroke="#080808" stroke-width="1.3" />
<text x="190.40" y="373.60" font-family='"Liberation Sans", sans-serif' font-size="6.5" font-weight="bold" text-anchor="end" fill="#080808" stroke="#080808" stroke-width="0.35" transform="rotate(-45 190.40 373.60)" >s13501</text>
<line x1="203.50" y1="365.80" x2="203.50" y2="368.20" stroke="#080808" stroke-width="1.3" />
<text x="205.60" y="373.60" font-family='"Liberation Sans", sans-serif' font-size="6.5" font-weight="bold" text-anchor="end" fill="#080808" stroke="#080808" stroke-width="0.35" transform="rotate(-45 205.60 373.60)" >s224690</text>
<text x="137.40" y="326.80" font-family='"Liberation Sans", sans-serif' font-size="9.05" font-weight="bold" text-anchor="middle" fill="#080808" stroke="#080808" stroke-width="0.35" transform="rotate(-90 137.40 326.80)">SST<tspan font-size="6.4" dy="1.8">3</tspan><tspan dy="-1.8" font-size="9.05">/TUBB</tspan></text>
<text x="249.50" y="285.20" font-family='"Liberation Sans", sans-serif' font-size="13.3" font-weight="bold" text-anchor="start" fill="#080808" stroke="#080808" stroke-width="0.35" >G</text>
<line x1="285.00" y1="284.45" x2="285.00" y2="363.45" stroke="#080808" stroke-width="1.3" />
<line x1="282.10" y1="362.80" x2="285.00" y2="362.80" stroke="#080808" stroke-width="1.3" />
<text x="280.20" y="364.82" font-family='"Liberation Sans", sans-serif' font-size="5.6" font-weight="bold" text-anchor="end" fill="#080808" stroke="#080808" stroke-width="0.35" >0</text>
<line x1="282.10" y1="336.90" x2="285.00" y2="336.90" stroke="#080808" stroke-width="1.3" />
<text x="280.20" y="338.92" font-family='"Liberation Sans", sans-serif' font-size="5.6" font-weight="bold" text-anchor="end" fill="#080808" stroke="#080808" stroke-width="0.35" >50</text>
<line x1="282.10" y1="311.00" x2="285.00" y2="311.00" stroke="#080808" stroke-width="1.3" />
<text x="280.20" y="313.02" font-family='"Liberation Sans", sans-serif' font-size="5.6" font-weight="bold" text-anchor="end" fill="#080808" stroke="#080808" stroke-width="0.35" >100</text>
<line x1="282.10" y1="285.10" x2="285.00" y2="285.10" stroke="#080808" stroke-width="1.3" />
<text x="280.20" y="287.12" font-family='"Liberation Sans", sans-serif' font-size="5.6" font-weight="bold" text-anchor="end" fill="#080808" stroke="#080808" stroke-width="0.35" >150</text>
<line x1="284.35" y1="362.80" x2="428.40" y2="362.80" stroke="#080808" stroke-width="1.3" />
<line x1="292.25" y1="311.00" x2="292.25" y2="310.22" stroke="#080808" stroke-width="1.3" />
<line x1="289.75" y1="310.22" x2="294.75" y2="310.22" stroke="#080808" stroke-width="1.3" />
<rect x="287.40" y="311.00" width="9.70" height="51.80" fill="#fff" stroke="#080808" stroke-width="1.3"/>
<line x1="302.05" y1="316.18" x2="302.05" y2="314.37" stroke="#080808" stroke-width="1.3" />
<line x1="299.55" y1="314.37" x2="304.55" y2="314.37" stroke="#080808" stroke-width="1.3" />
<rect x="297.10" y="316.18" width="9.90" height="46.62" fill="#a6a6a6" stroke="#080808" stroke-width="1.3"/>
<line x1="311.90" y1="307.89" x2="311.90" y2="306.60" stroke="#080808" stroke-width="1.3" />
<line x1="309.40" y1="306.60" x2="314.40" y2="306.60" stroke="#080808" stroke-width="1.3" />
<rect x="307.00" y="307.89" width="9.80" height="54.91" fill="#fff" stroke="#080808" stroke-width="1.3"/>
<line x1="321.70" y1="308.93" x2="321.70" y2="307.12" stroke="#080808" stroke-width="1.3" />
<line x1="319.20" y1="307.12" x2="324.20" y2="307.12" stroke="#080808" stroke-width="1.3" />
<rect x="316.80" y="308.93" width="9.80" height="53.87" fill="#9c9c9c" stroke="#080808" stroke-width="1.3"/>
<line x1="341.60" y1="310.48" x2="341.60" y2="308.93" stroke="#080808" stroke-width="1.3" />
<line x1="339.10" y1="308.93" x2="344.10" y2="308.93" stroke="#080808" stroke-width="1.3" />
<rect x="336.50" y="310.48" width="10.20" height="52.32" fill="#fff" stroke="#080808" stroke-width="1.3"/>
<line x1="351.60" y1="317.73" x2="351.60" y2="315.66" stroke="#080808" stroke-width="1.3" />
<line x1="349.10" y1="315.66" x2="354.10" y2="315.66" stroke="#080808" stroke-width="1.3" />
<rect x="346.70" y="317.73" width="9.80" height="45.07" fill="#a6a6a6" stroke="#080808" stroke-width="1.3"/>
<line x1="361.35" y1="306.86" x2="361.35" y2="306.08" stroke="#080808" stroke-width="1.3" />
<line x1="358.85" y1="306.08" x2="363.85" y2="306.08" stroke="#080808" stroke-width="1.3" />
<rect x="356.50" y="306.86" width="9.70" height="55.94" fill="#fff" stroke="#080808" stroke-width="1.3"/>
<line x1="371.00" y1="309.96" x2="371.00" y2="308.15" stroke="#080808" stroke-width="1.3" />
<line x1="368.50" y1="308.15" x2="373.50" y2="308.15" stroke="#080808" stroke-width="1.3" />
<rect x="366.20" y="309.96" width="9.60" height="52.84" fill="#9c9c9c" stroke="#080808" stroke-width="1.3"/>
<line x1="390.55" y1="311.00" x2="390.55" y2="309.19" stroke="#080808" stroke-width="1.3" />
<line x1="388.05" y1="309.19" x2="393.05" y2="309.19" stroke="#080808" stroke-width="1.3" />
<rect x="385.60" y="311.00" width="9.90" height="51.80" fill="#fff" stroke="#080808" stroke-width="1.3"/>
<line x1="400.55" y1="319.81" x2="400.55" y2="317.99" stroke="#080808" stroke-width="1.3" />
<line x1="398.05" y1="317.99" x2="403.05" y2="317.99" stroke="#080808" stroke-width="1.3" />
<rect x="395.50" y="319.81" width="10.10" height="42.99" fill="#a6a6a6" stroke="#080808" stroke-width="1.3"/>
<line x1="410.60" y1="310.48" x2="410.60" y2="309.86" stroke="#080808" stroke-width="1.3" />
<line x1="408.10" y1="309.86" x2="413.10" y2="309.86" stroke="#080808" stroke-width="1.3" />
<rect x="405.60" y="310.48" width="10.00" height="52.32" fill="#fff" stroke="#080808" stroke-width="1.3"/>
<line x1="420.55" y1="311.00" x2="420.55" y2="309.71" stroke="#080808" stroke-width="1.3" />
<line x1="418.05" y1="309.71" x2="423.05" y2="309.71" stroke="#080808" stroke-width="1.3" />
<rect x="415.60" y="311.00" width="9.90" height="51.80" fill="#9c9c9c" stroke="#080808" stroke-width="1.3"/>
<line x1="285.00" y1="311.00" x2="428.40" y2="311.00" stroke="#111" stroke-width="1.0" stroke-dasharray="1.1 1.3"/>
<line x1="307.00" y1="362.80" x2="307.00" y2="365.20" stroke="#080808" stroke-width="1.3" />
<line x1="356.50" y1="362.80" x2="356.50" y2="365.20" stroke="#080808" stroke-width="1.3" />
<line x1="405.60" y1="362.80" x2="405.60" y2="365.20" stroke="#080808" stroke-width="1.3" />
<text x="400.40" y="308.80" font-family='"Liberation Sans", sans-serif' font-size="12.2" font-weight="bold" text-anchor="middle" fill="#080808" stroke="#080808" stroke-width="0.35" >**</text>
<text x="307.20" y="371.30" font-family='"Liberation Sans", sans-serif' font-size="7.8" font-weight="bold" text-anchor="middle" fill="#080808" stroke="#080808" stroke-width="0.35" >24 h</text>
<text x="357.40" y="371.30" font-family='"Liberation Sans", sans-serif' font-size="7.8" font-weight="bold" text-anchor="middle" fill="#080808" stroke="#080808" stroke-width="0.35" >48 h</text>
<text x="408.00" y="371.30" font-family='"Liberation Sans", sans-serif' font-size="7.8" font-weight="bold" text-anchor="middle" fill="#080808" stroke="#080808" stroke-width="0.35" >72 h</text>
<text x="357.80" y="381.20" font-family='"Liberation Sans", sans-serif' font-size="8.6" font-weight="bold" text-anchor="middle" fill="#080808" stroke="#080808" stroke-width="0.35" >Time</text>
<text x="255.40" y="320.10" font-family='"Liberation Sans", sans-serif' font-size="8.5" font-weight="bold" text-anchor="middle" fill="#080808" stroke="#080808" stroke-width="0.35" transform="rotate(-90 255.40 320.10)" >Cell viability</text>
<text x="264.60" y="319.70" font-family='"Liberation Sans", sans-serif' font-size="8.7" font-weight="bold" text-anchor="middle" fill="#080808" stroke="#080808" stroke-width="0.35" transform="rotate(-90 264.60 319.70)" >(% of control)</text>
<rect x="443.70" y="288.10" width="8.70" height="4.20" fill="#fff" stroke="#080808" stroke-width="1.7"/>
<text x="455.80" y="292.40" font-family='"Liberation Sans", sans-serif' font-size="7.55" font-weight="bold" text-anchor="start" fill="#080808" stroke="#080808" stroke-width="0.35" word-spacing="0.5">Scramble</text>
<rect x="443.70" y="297.35" width="8.70" height="4.20" fill="#a6a6a6" stroke="#080808" stroke-width="1.7"/>
<text x="455.80" y="301.70" font-family='"Liberation Sans", sans-serif' font-size="7.55" font-weight="bold" text-anchor="start" fill="#080808" stroke="#080808" stroke-width="0.35" word-spacing="0.5">BIM-355</text>
<rect x="443.70" y="306.60" width="8.70" height="4.20" fill="#fff" stroke="#080808" stroke-width="1.7"/>
<text x="455.80" y="311.00" font-family='"Liberation Sans", sans-serif' font-size="7.55" font-weight="bold" text-anchor="start" fill="#080808" stroke="#080808" stroke-width="0.35" word-spacing="0.5">s13501</text>
<rect x="443.70" y="315.85" width="8.70" height="4.20" fill="#9c9c9c" stroke="#080808" stroke-width="1.7"/>
<text x="455.80" y="320.30" font-family='"Liberation Sans", sans-serif' font-size="7.55" font-weight="bold" text-anchor="start" fill="#080808" stroke="#080808" stroke-width="0.35" word-spacing="0.5">s13501 + BIM-355</text>
<rect x="47.30" y="400.40" width="40.50" height="77.80" fill="#dadada" stroke="#3a3a3a" stroke-width="1.0"/>
<line x1="47.30" y1="442.60" x2="87.80" y2="442.60" stroke="#3a3a3a" stroke-width="1.0" />
<rect x="55.40" y="428.05" width="12.10" height="3.30" rx="1.65" fill="#000" opacity="1.0" filter="url(#blur1)"/>
<rect x="70.00" y="428.70" width="5.00" height="2.40" rx="1.20" fill="#000" opacity="0.85" filter="url(#blur1)"/>
<rect x="75.00" y="429.20" width="4.00" height="1.60" rx="0.80" fill="#000" opacity="0.22" filter="url(#blur1)"/>
<rect x="54.50" y="458.05" width="12.50" height="3.30" rx="1.65" fill="#000" opacity="1.0" filter="url(#blur1)"/>
<rect x="68.40" y="458.05" width="11.60" height="3.30" rx="1.65" fill="#000" opacity="1.0" filter="url(#blur1)"/>
<rect x="57.00" y="416.70" width="9.00" height="1.40" rx="0.70" fill="#000" opacity="0.04" filter="url(#blur2)"/>
<rect x="70.00" y="416.70" width="9.00" height="1.40" rx="0.70" fill="#000" opacity="0.04" filter="url(#blur2)"/>
<text x="23.30" y="423.90" font-family='"Liberation Sans", sans-serif' font-size="8.0" font-weight="bold" text-anchor="start" fill="#080808" stroke="#080808" stroke-width="0.35">SST<tspan font-size="6.0" dy="1.7">3</tspan></text>
<text x="21.90" y="461.90" font-family='"Liberation Sans", sans-serif' font-size="7.6" font-weight="bold" text-anchor="start" fill="#080808" stroke="#080808" stroke-width="0.35" >TUBB</text>
<line x1="50.80" y1="481.40" x2="65.60" y2="481.40" stroke="#080808" stroke-width="1.8" />
<line x1="68.50" y1="481.40" x2="82.80" y2="481.40" stroke="#080808" stroke-width="1.8" />
<text x="61.50" y="486.70" font-family='"Liberation Sans", sans-serif' font-size="8.6" font-weight="bold" text-anchor="end" fill="#080808" stroke="#080808" stroke-width="0.35" transform="rotate(-45 61.50 486.70)" >Scramble</text>
<text x="82.80" y="486.30" font-family='"Liberation Sans", sans-serif' font-size="8.8" font-weight="bold" text-anchor="end" fill="#080808" stroke="#080808" stroke-width="0.35" transform="rotate(-45 82.80 486.30)" >s13501</text>
<rect x="155.10" y="400.70" width="62.50" height="79.20" fill="#dadada" stroke="#3a3a3a" stroke-width="1.0"/>
<line x1="155.10" y1="447.30" x2="217.60" y2="447.30" stroke="#3a3a3a" stroke-width="1.0" />
<rect x="163.80" y="427.55" width="13.50" height="3.50" rx="1.75" fill="#000" opacity="1.0" filter="url(#blur1)"/>
<rect x="178.90" y="427.95" width="11.70" height="3.10" rx="1.55" fill="#000" opacity="1.0" filter="url(#blur1)"/>
<rect x="193.50" y="428.25" width="13.10" height="2.70" rx="1.35" fill="#000" opacity="1.0" filter="url(#blur1)"/>
<rect x="164.00" y="461.75" width="12.20" height="3.30" rx="1.65" fill="#000" opacity="1.0" filter="url(#blur1)"/>
<rect x="178.50" y="461.35" width="11.90" height="3.30" rx="1.65" fill="#000" opacity="1.0" filter="url(#blur1)"/>
<rect x="192.70" y="460.85" width="13.10" height="3.50" rx="1.75" fill="#000" opacity="1.0" filter="url(#blur1)"/>
<rect x="166.00" y="410.80" width="9.00" height="1.60" rx="0.80" fill="#000" opacity="0.09" filter="url(#blur2)"/>
<rect x="181.00" y="411.10" width="8.00" height="1.40" rx="0.70" fill="#000" opacity="0.07" filter="url(#blur2)"/>
<rect x="195.00" y="411.10" width="10.00" height="1.40" rx="0.70" fill="#000" opacity="0.08" filter="url(#blur2)"/>
<text x="131.00" y="426.70" font-family='"Liberation Sans", sans-serif' font-size="8.0" font-weight="bold" text-anchor="start" fill="#080808" stroke="#080808" stroke-width="0.35">SST<tspan font-size="6.0" dy="1.7">3</tspan></text>
<text x="130.30" y="465.00" font-family='"Liberation Sans", sans-serif' font-size="7.6" font-weight="bold" text-anchor="start" fill="#080808" stroke="#080808" stroke-width="0.35" >TUBB</text>
<line x1="161.50" y1="482.50" x2="175.60" y2="482.50" stroke="#080808" stroke-width="1.8" />
<line x1="177.50" y1="482.50" x2="191.60" y2="482.50" stroke="#080808" stroke-width="1.8" />
<line x1="193.30" y1="482.50" x2="207.70" y2="482.50" stroke="#080808" stroke-width="1.8" />
<text x="172.50" y="489.20" font-family='"Liberation Sans", sans-serif' font-size="8.6" font-weight="bold" text-anchor="end" fill="#080808" stroke="#080808" stroke-width="0.35" transform="rotate(-45 172.50 489.20)" >Scramble</text>
<text x="190.30" y="488.80" font-family='"Liberation Sans", sans-serif' font-size="8.6" font-weight="bold" text-anchor="end" fill="#080808" stroke="#080808" stroke-width="0.35" transform="rotate(-45 190.30 488.80)" >s13501</text>
<text x="207.50" y="489.20" font-family='"Liberation Sans", sans-serif' font-size="8.6" font-weight="bold" text-anchor="end" fill="#080808" stroke="#080808" stroke-width="0.35" transform="rotate(-45 207.50 489.20)" >s224690</text>
</g>
<g>
<clipPath id="c1"><rect x="75.75" y="63.85" width="15.00" height="36.10"/></clipPath>
<path d="M35.56 100.50L36.64 100.50L73.84 63.30L72.76 63.30ZM37.86 100.50L38.94 100.50L76.14 63.30L75.06 63.30ZM40.16 100.50L41.24 100.50L78.44 63.30L77.36 63.30ZM42.46 100.50L43.54 100.50L80.74 63.30L79.66 63.30ZM44.76 100.50L45.84 100.50L83.04 63.30L81.96 63.30ZM47.06 100.50L48.14 100.50L85.34 63.30L84.26 63.30ZM49.36 100.50L50.44 100.50L87.64 63.30L86.56 63.30ZM51.66 100.50L52.74 100.50L89.94 63.30L88.86 63.30ZM53.96 100.50L55.04 100.50L92.24 63.30L91.16 63.30ZM56.26 100.50L57.34 100.50L94.54 63.30L93.46 63.30ZM58.56 100.50L59.64 100.50L96.84 63.30L95.76 63.30ZM60.86 100.50L61.94 100.50L99.14 63.30L98.06 63.30ZM63.16 100.50L64.24 100.50L101.44 63.30L100.36 63.30ZM65.46 100.50L66.54 100.50L103.74 63.30L102.66 63.30ZM67.76 100.50L68.84 100.50L106.04 63.30L104.96 63.30ZM70.06 100.50L71.14 100.50L108.34 63.30L107.26 63.30ZM72.36 100.50L73.44 100.50L110.64 63.30L109.56 63.30ZM74.66 100.50L75.74 100.50L112.94 63.30L111.86 63.30ZM76.96 100.50L78.04 100.50L115.24 63.30L114.16 63.30ZM79.26 100.50L80.34 100.50L117.54 63.30L116.46 63.30ZM81.56 100.50L82.64 100.50L119.84 63.30L118.76 63.30ZM83.86 100.50L84.94 100.50L122.14 63.30L121.06 63.30ZM86.16 100.50L87.24 100.50L124.44 63.30L123.36 63.30ZM88.46 100.50L89.54 100.50L126.74 63.30L125.66 63.30ZM90.76 100.50L91.84 100.50L129.04 63.30L127.96 63.30Z" fill="#111" clip-path="url(#c1)"/>
<clipPath id="c2"><rect x="91.85" y="62.75" width="14.70" height="37.20"/></clipPath>
<path d="M91.92 62.83h1.3v1.3h-1.3zM95.02 62.83h1.3v1.3h-1.3zM98.12 62.83h1.3v1.3h-1.3zM101.22 62.83h1.3v1.3h-1.3zM104.33 62.83h1.3v1.3h-1.3zM107.42 62.83h1.3v1.3h-1.3zM93.47 64.38h1.3v1.3h-1.3zM96.58 64.38h1.3v1.3h-1.3zM99.67 64.38h1.3v1.3h-1.3zM102.77 64.38h1.3v1.3h-1.3zM105.88 64.38h1.3v1.3h-1.3zM108.97 64.38h1.3v1.3h-1.3zM91.92 65.92h1.3v1.3h-1.3zM95.02 65.92h1.3v1.3h-1.3zM98.12 65.92h1.3v1.3h-1.3zM101.22 65.92h1.3v1.3h-1.3zM104.33 65.92h1.3v1.3h-1.3zM107.42 65.92h1.3v1.3h-1.3zM93.47 67.48h1.3v1.3h-1.3zM96.58 67.48h1.3v1.3h-1.3zM99.67 67.48h1.3v1.3h-1.3zM102.77 67.48h1.3v1.3h-1.3zM105.88 67.48h1.3v1.3h-1.3zM108.97 67.48h1.3v1.3h-1.3zM91.92 69.03h1.3v1.3h-1.3zM95.02 69.03h1.3v1.3h-1.3zM98.12 69.03h1.3v1.3h-1.3zM101.22 69.03h1.3v1.3h-1.3zM104.33 69.03h1.3v1.3h-1.3zM107.42 69.03h1.3v1.3h-1.3zM93.47 70.58h1.3v1.3h-1.3zM96.58 70.58h1.3v1.3h-1.3zM99.67 70.58h1.3v1.3h-1.3zM102.77 70.58h1.3v1.3h-1.3zM105.88 70.58h1.3v1.3h-1.3zM108.97 70.58h1.3v1.3h-1.3zM91.92 72.12h1.3v1.3h-1.3zM95.02 72.12h1.3v1.3h-1.3zM98.12 72.12h1.3v1.3h-1.3zM101.22 72.12h1.3v1.3h-1.3zM104.33 72.12h1.3v1.3h-1.3zM107.42 72.12h1.3v1.3h-1.3zM93.47 73.67h1.3v1.3h-1.3zM96.58 73.67h1.3v1.3h-1.3zM99.67 73.67h1.3v1.3h-1.3zM102.77 73.67h1.3v1.3h-1.3zM105.88 73.67h1.3v1.3h-1.3zM108.97 73.67h1.3v1.3h-1.3zM91.92 75.23h1.3v1.3h-1.3zM95.02 75.23h1.3v1.3h-1.3zM98.12 75.23h1.3v1.3h-1.3zM101.22 75.23h1.3v1.3h-1.3zM104.33 75.23h1.3v1.3h-1.3zM107.42 75.23h1.3v1.3h-1.3zM93.47 76.78h1.3v1.3h-1.3zM96.58 76.78h1.3v1.3h-1.3zM99.67 76.78h1.3v1.3h-1.3zM102.77 76.78h1.3v1.3h-1.3zM105.88 76.78h1.3v1.3h-1.3zM108.97 76.78h1.3v1.3h-1.3zM91.92 78.33h1.3v1.3h-1.3zM95.02 78.33h1.3v1.3h-1.3zM98.12 78.33h1.3v1.3h-1.3zM101.22 78.33h1.3v1.3h-1.3zM104.33 78.33h1.3v1.3h-1.3zM107.42 78.33h1.3v1.3h-1.3zM93.47 79.88h1.3v1.3h-1.3zM96.58 79.88h1.3v1.3h-1.3zM99.67 79.88h1.3v1.3h-1.3zM102.77 79.88h1.3v1.3h-1.3zM105.88 79.88h1.3v1.3h-1.3zM108.97 79.88h1.3v1.3h-1.3zM91.92 81.43h1.3v1.3h-1.3zM95.02 81.43h1.3v1.3h-1.3zM98.12 81.43h1.3v1.3h-1.3zM101.22 81.43h1.3v1.3h-1.3zM104.33 81.43h1.3v1.3h-1.3zM107.42 81.43h1.3v1.3h-1.3zM93.47 82.98h1.3v1.3h-1.3zM96.58 82.98h1.3v1.3h-1.3zM99.67 82.98h1.3v1.3h-1.3zM102.77 82.98h1.3v1.3h-1.3zM105.88 82.98h1.3v1.3h-1.3zM108.97 82.98h1.3v1.3h-1.3zM91.92 84.53h1.3v1.3h-1.3zM95.02 84.53h1.3v1.3h-1.3zM98.12 84.53h1.3v1.3h-1.3zM101.22 84.53h1.3v1.3h-1.3zM104.33 84.53h1.3v1.3h-1.3zM107.42 84.53h1.3v1.3h-1.3zM93.47 86.08h1.3v1.3h-1.3zM96.58 86.08h1.3v1.3h-1.3zM99.67 86.08h1.3v1.3h-1.3zM102.77 86.08h1.3v1.3h-1.3zM105.88 86.08h1.3v1.3h-1.3zM108.97 86.08h1.3v1.3h-1.3zM91.92 87.62h1.3v1.3h-1.3zM95.02 87.62h1.3v1.3h-1.3zM98.12 87.62h1.3v1.3h-1.3zM101.22 87.62h1.3v1.3h-1.3zM104.33 87.62h1.3v1.3h-1.3zM107.42 87.62h1.3v1.3h-1.3zM93.47 89.18h1.3v1.3h-1.3zM96.58 89.18h1.3v1.3h-1.3zM99.67 89.18h1.3v1.3h-1.3zM102.77 89.18h1.3v1.3h-1.3zM105.88 89.18h1.3v1.3h-1.3zM108.97 89.18h1.3v1.3h-1.3zM91.92 90.73h1.3v1.3h-1.3zM95.02 90.73h1.3v1.3h-1.3zM98.12 90.73h1.3v1.3h-1.3zM101.22 90.73h1.3v1.3h-1.3zM104.33 90.73h1.3v1.3h-1.3zM107.42 90.73h1.3v1.3h-1.3zM93.47 92.28h1.3v1.3h-1.3zM96.58 92.28h1.3v1.3h-1.3zM99.67 92.28h1.3v1.3h-1.3zM102.77 92.28h1.3v1.3h-1.3zM105.88 92.28h1.3v1.3h-1.3zM108.97 92.28h1.3v1.3h-1.3zM91.92 93.83h1.3v1.3h-1.3zM95.02 93.83h1.3v1.3h-1.3zM98.12 93.83h1.3v1.3h-1.3zM101.22 93.83h1.3v1.3h-1.3zM104.33 93.83h1.3v1.3h-1.3zM107.42 93.83h1.3v1.3h-1.3zM93.47 95.38h1.3v1.3h-1.3zM96.58 95.38h1.3v1.3h-1.3zM99.67 95.38h1.3v1.3h-1.3zM102.77 95.38h1.3v1.3h-1.3zM105.88 95.38h1.3v1.3h-1.3zM108.97 95.38h1.3v1.3h-1.3zM91.92 96.93h1.3v1.3h-1.3zM95.02 96.93h1.3v1.3h-1.3zM98.12 96.93h1.3v1.3h-1.3zM101.22 96.93h1.3v1.3h-1.3zM104.33 96.93h1.3v1.3h-1.3zM107.42 96.93h1.3v1.3h-1.3zM93.47 98.47h1.3v1.3h-1.3zM96.58 98.47h1.3v1.3h-1.3zM99.67 98.47h1.3v1.3h-1.3zM102.77 98.47h1.3v1.3h-1.3zM105.88 98.47h1.3v1.3h-1.3zM108.97 98.47h1.3v1.3h-1.3zM91.92 100.03h1.3v1.3h-1.3zM95.02 100.03h1.3v1.3h-1.3zM98.12 100.03h1.3v1.3h-1.3zM101.22 100.03h1.3v1.3h-1.3zM104.33 100.03h1.3v1.3h-1.3zM107.42 100.03h1.3v1.3h-1.3zM93.47 101.58h1.3v1.3h-1.3zM96.58 101.58h1.3v1.3h-1.3zM99.67 101.58h1.3v1.3h-1.3zM102.77 101.58h1.3v1.3h-1.3zM105.88 101.58h1.3v1.3h-1.3zM108.97 101.58h1.3v1.3h-1.3z" fill="#e6e6e6" clip-path="url(#c2)"/>
<clipPath id="c3"><rect x="68.85" y="349.65" width="16.30" height="14.50"/></clipPath>
<path d="M51.48 364.70L52.72 364.70L68.32 349.10L67.08 349.10ZM54.18 364.70L55.42 364.70L71.02 349.10L69.78 349.10ZM56.88 364.70L58.12 364.70L73.72 349.10L72.48 349.10ZM59.58 364.70L60.82 364.70L76.42 349.10L75.18 349.10ZM62.28 364.70L63.52 364.70L79.12 349.10L77.88 349.10ZM64.98 364.70L66.22 364.70L81.82 349.10L80.58 349.10ZM67.68 364.70L68.92 364.70L84.52 349.10L83.28 349.10ZM70.38 364.70L71.62 364.70L87.22 349.10L85.98 349.10ZM73.08 364.70L74.32 364.70L89.92 349.10L88.68 349.10ZM75.78 364.70L77.02 364.70L92.62 349.10L91.38 349.10ZM78.48 364.70L79.72 364.70L95.32 349.10L94.08 349.10ZM81.18 364.70L82.42 364.70L98.02 349.10L96.78 349.10ZM83.88 364.70L85.12 364.70L100.72 349.10L99.48 349.10ZM86.58 364.70L87.82 364.70L103.42 349.10L102.18 349.10Z" fill="#111" clip-path="url(#c3)"/>
<clipPath id="c4"><rect x="181.15" y="323.99" width="14.30" height="41.26"/></clipPath>
<path d="M136.36 365.80L137.44 365.80L179.80 323.44L178.73 323.44ZM138.66 365.80L139.74 365.80L182.10 323.44L181.03 323.44ZM140.96 365.80L142.04 365.80L184.40 323.44L183.33 323.44ZM143.26 365.80L144.34 365.80L186.70 323.44L185.63 323.44ZM145.56 365.80L146.64 365.80L189.00 323.44L187.93 323.44ZM147.86 365.80L148.94 365.80L191.30 323.44L190.23 323.44ZM150.16 365.80L151.24 365.80L193.60 323.44L192.53 323.44ZM152.46 365.80L153.54 365.80L195.90 323.44L194.83 323.44ZM154.76 365.80L155.84 365.80L198.20 323.44L197.13 323.44ZM157.06 365.80L158.14 365.80L200.50 323.44L199.43 323.44ZM159.36 365.80L160.44 365.80L202.80 323.44L201.73 323.44ZM161.66 365.80L162.74 365.80L205.10 323.44L204.03 323.44ZM163.96 365.80L165.04 365.80L207.40 323.44L206.33 323.44ZM166.26 365.80L167.34 365.80L209.70 323.44L208.63 323.44ZM168.56 365.80L169.64 365.80L212.00 323.44L210.93 323.44ZM170.86 365.80L171.94 365.80L214.30 323.44L213.23 323.44ZM173.16 365.80L174.24 365.80L216.60 323.44L215.53 323.44ZM175.46 365.80L176.54 365.80L218.90 323.44L217.83 323.44ZM177.76 365.80L178.84 365.80L221.20 323.44L220.13 323.44ZM180.06 365.80L181.14 365.80L223.50 323.44L222.43 323.44ZM182.36 365.80L183.44 365.80L225.80 323.44L224.73 323.44ZM184.66 365.80L185.74 365.80L228.10 323.44L227.03 323.44ZM186.96 365.80L188.04 365.80L230.40 323.44L229.33 323.44ZM189.26 365.80L190.34 365.80L232.70 323.44L231.63 323.44ZM191.56 365.80L192.64 365.80L235.00 323.44L233.93 323.44ZM193.86 365.80L194.94 365.80L237.30 323.44L236.23 323.44ZM196.16 365.80L197.24 365.80L239.60 323.44L238.53 323.44Z" fill="#111" clip-path="url(#c4)"/>
<clipPath id="c5"><rect x="196.55" y="335.49" width="13.80" height="29.76"/></clipPath>
<path d="M196.62 335.57h1.3v1.3h-1.3zM199.72 335.57h1.3v1.3h-1.3zM202.82 335.57h1.3v1.3h-1.3zM205.93 335.57h1.3v1.3h-1.3zM209.03 335.57h1.3v1.3h-1.3zM212.12 335.57h1.3v1.3h-1.3zM198.18 337.12h1.3v1.3h-1.3zM201.28 337.12h1.3v1.3h-1.3zM204.38 337.12h1.3v1.3h-1.3zM207.47 337.12h1.3v1.3h-1.3zM210.57 337.12h1.3v1.3h-1.3zM196.62 338.67h1.3v1.3h-1.3zM199.72 338.67h1.3v1.3h-1.3zM202.82 338.67h1.3v1.3h-1.3zM205.93 338.67h1.3v1.3h-1.3zM209.03 338.67h1.3v1.3h-1.3zM212.12 338.67h1.3v1.3h-1.3zM198.18 340.22h1.3v1.3h-1.3zM201.28 340.22h1.3v1.3h-1.3zM204.38 340.22h1.3v1.3h-1.3zM207.47 340.22h1.3v1.3h-1.3zM210.57 340.22h1.3v1.3h-1.3zM196.62 341.77h1.3v1.3h-1.3zM199.72 341.77h1.3v1.3h-1.3zM202.82 341.77h1.3v1.3h-1.3zM205.93 341.77h1.3v1.3h-1.3zM209.03 341.77h1.3v1.3h-1.3zM212.12 341.77h1.3v1.3h-1.3zM198.18 343.32h1.3v1.3h-1.3zM201.28 343.32h1.3v1.3h-1.3zM204.38 343.32h1.3v1.3h-1.3zM207.47 343.32h1.3v1.3h-1.3zM210.57 343.32h1.3v1.3h-1.3zM196.62 344.87h1.3v1.3h-1.3zM199.72 344.87h1.3v1.3h-1.3zM202.82 344.87h1.3v1.3h-1.3zM205.93 344.87h1.3v1.3h-1.3zM209.03 344.87h1.3v1.3h-1.3zM212.12 344.87h1.3v1.3h-1.3zM198.18 346.42h1.3v1.3h-1.3zM201.28 346.42h1.3v1.3h-1.3zM204.38 346.42h1.3v1.3h-1.3zM207.47 346.42h1.3v1.3h-1.3zM210.57 346.42h1.3v1.3h-1.3zM196.62 347.97h1.3v1.3h-1.3zM199.72 347.97h1.3v1.3h-1.3zM202.82 347.97h1.3v1.3h-1.3zM205.93 347.97h1.3v1.3h-1.3zM209.03 347.97h1.3v1.3h-1.3zM212.12 347.97h1.3v1.3h-1.3zM198.18 349.52h1.3v1.3h-1.3zM201.28 349.52h1.3v1.3h-1.3zM204.38 349.52h1.3v1.3h-1.3zM207.47 349.52h1.3v1.3h-1.3zM210.57 349.52h1.3v1.3h-1.3zM196.62 351.07h1.3v1.3h-1.3zM199.72 351.07h1.3v1.3h-1.3zM202.82 351.07h1.3v1.3h-1.3zM205.93 351.07h1.3v1.3h-1.3zM209.03 351.07h1.3v1.3h-1.3zM212.12 351.07h1.3v1.3h-1.3zM198.18 352.62h1.3v1.3h-1.3zM201.28 352.62h1.3v1.3h-1.3zM204.38 352.62h1.3v1.3h-1.3zM207.47 352.62h1.3v1.3h-1.3zM210.57 352.62h1.3v1.3h-1.3zM196.62 354.17h1.3v1.3h-1.3zM199.72 354.17h1.3v1.3h-1.3zM202.82 354.17h1.3v1.3h-1.3zM205.93 354.17h1.3v1.3h-1.3zM209.03 354.17h1.3v1.3h-1.3zM212.12 354.17h1.3v1.3h-1.3zM198.18 355.72h1.3v1.3h-1.3zM201.28 355.72h1.3v1.3h-1.3zM204.38 355.72h1.3v1.3h-1.3zM207.47 355.72h1.3v1.3h-1.3zM210.57 355.72h1.3v1.3h-1.3zM196.62 357.27h1.3v1.3h-1.3zM199.72 357.27h1.3v1.3h-1.3zM202.82 357.27h1.3v1.3h-1.3zM205.93 357.27h1.3v1.3h-1.3zM209.03 357.27h1.3v1.3h-1.3zM212.12 357.27h1.3v1.3h-1.3zM198.18 358.82h1.3v1.3h-1.3zM201.28 358.82h1.3v1.3h-1.3zM204.38 358.82h1.3v1.3h-1.3zM207.47 358.82h1.3v1.3h-1.3zM210.57 358.82h1.3v1.3h-1.3zM196.62 360.37h1.3v1.3h-1.3zM199.72 360.37h1.3v1.3h-1.3zM202.82 360.37h1.3v1.3h-1.3zM205.93 360.37h1.3v1.3h-1.3zM209.03 360.37h1.3v1.3h-1.3zM212.12 360.37h1.3v1.3h-1.3zM198.18 361.92h1.3v1.3h-1.3zM201.28 361.92h1.3v1.3h-1.3zM204.38 361.92h1.3v1.3h-1.3zM207.47 361.92h1.3v1.3h-1.3zM210.57 361.92h1.3v1.3h-1.3zM196.62 363.47h1.3v1.3h-1.3zM199.72 363.47h1.3v1.3h-1.3zM202.82 363.47h1.3v1.3h-1.3zM205.93 363.47h1.3v1.3h-1.3zM209.03 363.47h1.3v1.3h-1.3zM212.12 363.47h1.3v1.3h-1.3zM198.18 365.02h1.3v1.3h-1.3zM201.28 365.02h1.3v1.3h-1.3zM204.38 365.02h1.3v1.3h-1.3zM207.47 365.02h1.3v1.3h-1.3zM210.57 365.02h1.3v1.3h-1.3zM196.62 366.57h1.3v1.3h-1.3zM199.72 366.57h1.3v1.3h-1.3zM202.82 366.57h1.3v1.3h-1.3zM205.93 366.57h1.3v1.3h-1.3zM209.03 366.57h1.3v1.3h-1.3zM212.12 366.57h1.3v1.3h-1.3z" fill="#e6e6e6" clip-path="url(#c5)"/>
<clipPath id="c6"><rect x="307.55" y="308.44" width="8.70" height="53.81"/></clipPath>
<path d="M250.36 362.80L251.64 362.80L306.54 307.89L305.27 307.89ZM253.16 362.80L254.44 362.80L309.34 307.89L308.07 307.89ZM255.96 362.80L257.24 362.80L312.14 307.89L310.87 307.89ZM258.76 362.80L260.04 362.80L314.94 307.89L313.67 307.89ZM261.56 362.80L262.84 362.80L317.74 307.89L316.47 307.89ZM264.36 362.80L265.64 362.80L320.54 307.89L319.27 307.89ZM267.16 362.80L268.44 362.80L323.34 307.89L322.07 307.89ZM269.96 362.80L271.24 362.80L326.14 307.89L324.87 307.89ZM272.76 362.80L274.04 362.80L328.94 307.89L327.67 307.89ZM275.56 362.80L276.84 362.80L331.74 307.89L330.47 307.89ZM278.36 362.80L279.64 362.80L334.54 307.89L333.27 307.89ZM281.16 362.80L282.44 362.80L337.34 307.89L336.07 307.89ZM283.96 362.80L285.24 362.80L340.14 307.89L338.87 307.89ZM286.76 362.80L288.04 362.80L342.94 307.89L341.67 307.89ZM289.56 362.80L290.84 362.80L345.74 307.89L344.47 307.89ZM292.36 362.80L293.64 362.80L348.54 307.89L347.27 307.89ZM295.16 362.80L296.44 362.80L351.34 307.89L350.07 307.89ZM297.96 362.80L299.24 362.80L354.14 307.89L352.87 307.89ZM300.76 362.80L302.04 362.80L356.94 307.89L355.67 307.89ZM303.56 362.80L304.84 362.80L359.74 307.89L358.47 307.89ZM306.36 362.80L307.64 362.80L362.54 307.89L361.27 307.89ZM309.16 362.80L310.44 362.80L365.34 307.89L364.07 307.89ZM311.96 362.80L313.24 362.80L368.14 307.89L366.87 307.89ZM314.76 362.80L316.04 362.80L370.94 307.89L369.67 307.89ZM317.56 362.80L318.84 362.80L373.74 307.89L372.47 307.89Z" fill="#111" clip-path="url(#c6)"/>
<clipPath id="c7"><rect x="317.35" y="309.48" width="8.70" height="52.77"/></clipPath>
<path d="M260.04 362.80L261.56 362.80L315.44 308.93L313.91 308.93ZM262.84 362.80L264.36 362.80L318.24 308.93L316.71 308.93ZM265.64 362.80L267.16 362.80L321.04 308.93L319.51 308.93ZM268.44 362.80L269.96 362.80L323.84 308.93L322.31 308.93ZM271.24 362.80L272.76 362.80L326.64 308.93L325.11 308.93ZM274.04 362.80L275.56 362.80L329.44 308.93L327.91 308.93ZM276.84 362.80L278.36 362.80L332.24 308.93L330.71 308.93ZM279.64 362.80L281.16 362.80L335.04 308.93L333.51 308.93ZM282.44 362.80L283.96 362.80L337.84 308.93L336.31 308.93ZM285.24 362.80L286.76 362.80L340.64 308.93L339.11 308.93ZM288.04 362.80L289.56 362.80L343.44 308.93L341.91 308.93ZM290.84 362.80L292.36 362.80L346.24 308.93L344.71 308.93ZM293.64 362.80L295.16 362.80L349.04 308.93L347.51 308.93ZM296.44 362.80L297.96 362.80L351.84 308.93L350.31 308.93ZM299.24 362.80L300.76 362.80L354.64 308.93L353.11 308.93ZM302.04 362.80L303.56 362.80L357.44 308.93L355.91 308.93ZM304.84 362.80L306.36 362.80L360.24 308.93L358.71 308.93ZM307.64 362.80L309.16 362.80L363.04 308.93L361.51 308.93ZM310.44 362.80L311.96 362.80L365.84 308.93L364.31 308.93ZM313.24 362.80L314.76 362.80L368.64 308.93L367.11 308.93ZM316.04 362.80L317.56 362.80L371.44 308.93L369.91 308.93ZM318.84 362.80L320.36 362.80L374.24 308.93L372.71 308.93ZM321.64 362.80L323.16 362.80L377.04 308.93L375.51 308.93ZM324.44 362.80L325.96 362.80L379.84 308.93L378.31 308.93ZM327.24 362.80L328.76 362.80L382.64 308.93L381.11 308.93Z" fill="#1c1c1c" clip-path="url(#c7)"/>
<clipPath id="c8"><rect x="357.05" y="307.41" width="8.60" height="54.84"/></clipPath>
<path d="M299.86 362.80L301.14 362.80L357.08 306.86L355.81 306.86ZM302.66 362.80L303.94 362.80L359.88 306.86L358.61 306.86ZM305.46 362.80L306.74 362.80L362.68 306.86L361.41 306.86ZM308.26 362.80L309.54 362.80L365.48 306.86L364.21 306.86ZM311.06 362.80L312.34 362.80L368.28 306.86L367.01 306.86ZM313.86 362.80L315.14 362.80L371.08 306.86L369.81 306.86ZM316.66 362.80L317.94 362.80L373.88 306.86L372.61 306.86ZM319.46 362.80L320.74 362.80L376.68 306.86L375.41 306.86ZM322.26 362.80L323.54 362.80L379.48 306.86L378.21 306.86ZM325.06 362.80L326.34 362.80L382.28 306.86L381.01 306.86ZM327.86 362.80L329.14 362.80L385.08 306.86L383.81 306.86ZM330.66 362.80L331.94 362.80L387.88 306.86L386.61 306.86ZM333.46 362.80L334.74 362.80L390.68 306.86L389.41 306.86ZM336.26 362.80L337.54 362.80L393.48 306.86L392.21 306.86ZM339.06 362.80L340.34 362.80L396.28 306.86L395.01 306.86ZM341.86 362.80L343.14 362.80L399.08 306.86L397.81 306.86ZM344.66 362.80L345.94 362.80L401.88 306.86L400.61 306.86ZM347.46 362.80L348.74 362.80L404.68 306.86L403.41 306.86ZM350.26 362.80L351.54 362.80L407.48 306.86L406.21 306.86ZM353.06 362.80L354.34 362.80L410.28 306.86L409.01 306.86ZM355.86 362.80L357.14 362.80L413.08 306.86L411.81 306.86ZM358.66 362.80L359.94 362.80L415.88 306.86L414.61 306.86ZM361.46 362.80L362.74 362.80L418.68 306.86L417.41 306.86ZM364.26 362.80L365.54 362.80L421.48 306.86L420.21 306.86ZM367.06 362.80L368.34 362.80L424.28 306.86L423.01 306.86Z" fill="#111" clip-path="url(#c8)"/>
<clipPath id="c9"><rect x="366.75" y="310.51" width="8.50" height="51.74"/></clipPath>
<path d="M312.24 362.80L313.76 362.80L366.60 309.96L365.07 309.96ZM315.04 362.80L316.56 362.80L369.40 309.96L367.87 309.96ZM317.84 362.80L319.36 362.80L372.20 309.96L370.67 309.96ZM320.64 362.80L322.16 362.80L375.00 309.96L373.47 309.96ZM323.44 362.80L324.96 362.80L377.80 309.96L376.27 309.96ZM326.24 362.80L327.76 362.80L380.60 309.96L379.07 309.96ZM329.04 362.80L330.56 362.80L383.40 309.96L381.87 309.96ZM331.84 362.80L333.36 362.80L386.20 309.96L384.67 309.96ZM334.64 362.80L336.16 362.80L389.00 309.96L387.47 309.96ZM337.44 362.80L338.96 362.80L391.80 309.96L390.27 309.96ZM340.24 362.80L341.76 362.80L394.60 309.96L393.07 309.96ZM343.04 362.80L344.56 362.80L397.40 309.96L395.87 309.96ZM345.84 362.80L347.36 362.80L400.20 309.96L398.67 309.96ZM348.64 362.80L350.16 362.80L403.00 309.96L401.47 309.96ZM351.44 362.80L352.96 362.80L405.80 309.96L404.27 309.96ZM354.24 362.80L355.76 362.80L408.60 309.96L407.07 309.96ZM357.04 362.80L358.56 362.80L411.40 309.96L409.87 309.96ZM359.84 362.80L361.36 362.80L414.20 309.96L412.67 309.96ZM362.64 362.80L364.16 362.80L417.00 309.96L415.47 309.96ZM365.44 362.80L366.96 362.80L419.80 309.96L418.27 309.96ZM368.24 362.80L369.76 362.80L422.60 309.96L421.07 309.96ZM371.04 362.80L372.56 362.80L425.40 309.96L423.87 309.96ZM373.84 362.80L375.36 362.80L428.20 309.96L426.67 309.96ZM376.64 362.80L378.16 362.80L431.00 309.96L429.47 309.96Z" fill="#1c1c1c" clip-path="url(#c9)"/>
<clipPath id="c10"><rect x="406.15" y="311.03" width="8.90" height="51.22"/></clipPath>
<path d="M351.76 362.80L353.04 362.80L405.35 310.48L404.08 310.48ZM354.56 362.80L355.84 362.80L408.15 310.48L406.88 310.48ZM357.36 362.80L358.64 362.80L410.95 310.48L409.68 310.48ZM360.16 362.80L361.44 362.80L413.75 310.48L412.48 310.48ZM362.96 362.80L364.24 362.80L416.55 310.48L415.28 310.48ZM365.76 362.80L367.04 362.80L419.35 310.48L418.08 310.48ZM368.56 362.80L369.84 362.80L422.15 310.48L420.88 310.48ZM371.36 362.80L372.64 362.80L424.95 310.48L423.68 310.48ZM374.16 362.80L375.44 362.80L427.75 310.48L426.48 310.48ZM376.96 362.80L378.24 362.80L430.55 310.48L429.28 310.48ZM379.76 362.80L381.04 362.80L433.35 310.48L432.08 310.48ZM382.56 362.80L383.84 362.80L436.15 310.48L434.88 310.48ZM385.36 362.80L386.64 362.80L438.95 310.48L437.68 310.48ZM388.16 362.80L389.44 362.80L441.75 310.48L440.48 310.48ZM390.96 362.80L392.24 362.80L444.55 310.48L443.28 310.48ZM393.76 362.80L395.04 362.80L447.35 310.48L446.08 310.48ZM396.56 362.80L397.84 362.80L450.15 310.48L448.88 310.48ZM399.36 362.80L400.64 362.80L452.95 310.48L451.68 310.48ZM402.16 362.80L403.44 362.80L455.75 310.48L454.48 310.48ZM404.96 362.80L406.24 362.80L458.55 310.48L457.28 310.48ZM407.76 362.80L409.04 362.80L461.35 310.48L460.08 310.48ZM410.56 362.80L411.84 362.80L464.15 310.48L462.88 310.48ZM413.36 362.80L414.64 362.80L466.95 310.48L465.68 310.48ZM416.16 362.80L417.44 362.80L469.75 310.48L468.48 310.48Z" fill="#111" clip-path="url(#c10)"/>
<clipPath id="c11"><rect x="416.15" y="311.55" width="8.80" height="50.70"/></clipPath>
<path d="M361.64 362.80L363.16 362.80L414.96 311.00L413.44 311.00ZM364.44 362.80L365.96 362.80L417.76 311.00L416.24 311.00ZM367.24 362.80L368.76 362.80L420.56 311.00L419.04 311.00ZM370.04 362.80L371.56 362.80L423.36 311.00L421.84 311.00ZM372.84 362.80L374.36 362.80L426.16 311.00L424.64 311.00ZM375.64 362.80L377.16 362.80L428.96 311.00L427.44 311.00ZM378.44 362.80L379.96 362.80L431.76 311.00L430.24 311.00ZM381.24 362.80L382.76 362.80L434.56 311.00L433.04 311.00ZM384.04 362.80L385.56 362.80L437.36 311.00L435.84 311.00ZM386.84 362.80L388.36 362.80L440.16 311.00L438.64 311.00ZM389.64 362.80L391.16 362.80L442.96 311.00L441.44 311.00ZM392.44 362.80L393.96 362.80L445.76 311.00L444.24 311.00ZM395.24 362.80L396.76 362.80L448.56 311.00L447.04 311.00ZM398.04 362.80L399.56 362.80L451.36 311.00L449.84 311.00ZM400.84 362.80L402.36 362.80L454.16 311.00L452.64 311.00ZM403.64 362.80L405.16 362.80L456.96 311.00L455.44 311.00ZM406.44 362.80L407.96 362.80L459.76 311.00L458.24 311.00ZM409.24 362.80L410.76 362.80L462.56 311.00L461.04 311.00ZM412.04 362.80L413.56 362.80L465.36 311.00L463.84 311.00ZM414.84 362.80L416.36 362.80L468.16 311.00L466.64 311.00ZM417.64 362.80L419.16 362.80L470.96 311.00L469.44 311.00ZM420.44 362.80L421.96 362.80L473.76 311.00L472.24 311.00ZM423.24 362.80L424.76 362.80L476.56 311.00L475.04 311.00ZM426.04 362.80L427.56 362.80L479.36 311.00L477.84 311.00Z" fill="#1c1c1c" clip-path="url(#c11)"/>
<clipPath id="c12"><rect x="444.45" y="307.35" width="7.20" height="2.70"/></clipPath>
<path d="M437.46 310.80L438.74 310.80L442.94 306.60L441.66 306.60ZM440.26 310.80L441.54 310.80L445.74 306.60L444.46 306.60ZM443.06 310.80L444.34 310.80L448.54 306.60L447.26 306.60ZM445.86 310.80L447.14 310.80L451.34 306.60L450.06 306.60ZM448.66 310.80L449.94 310.80L454.14 306.60L452.86 306.60ZM451.46 310.80L452.74 310.80L456.94 306.60L455.66 306.60ZM454.26 310.80L455.54 310.80L459.74 306.60L458.46 306.60Z" fill="#111" clip-path="url(#c12)"/>
<clipPath id="c13"><rect x="444.45" y="316.60" width="7.20" height="2.70"/></clipPath>
<path d="M437.34 320.05L438.86 320.05L443.06 315.85L441.54 315.85ZM440.14 320.05L441.66 320.05L445.86 315.85L444.34 315.85ZM442.94 320.05L444.46 320.05L448.66 315.85L447.14 315.85ZM445.74 320.05L447.26 320.05L451.46 315.85L449.94 315.85ZM448.54 320.05L450.06 320.05L454.26 315.85L452.74 315.85ZM451.34 320.05L452.86 320.05L457.06 315.85L455.54 315.85ZM454.14 320.05L455.66 320.05L459.86 315.85L458.34 315.85Z" fill="#1c1c1c" clip-path="url(#c13)"/>
</g>
</svg>
</body></html>
